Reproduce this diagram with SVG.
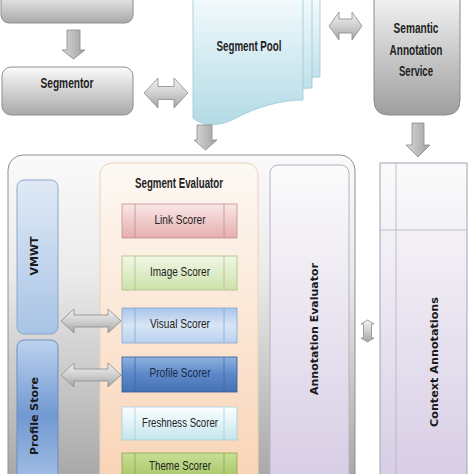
<svg xmlns="http://www.w3.org/2000/svg" width="474" height="474" viewBox="0 0 474 474">
<defs>
<linearGradient id="gGray" x1="0" y1="0" x2="0" y2="1"><stop offset="0" stop-color="#fbfbfb"/><stop offset="1" stop-color="#a9a9a9"/></linearGradient>
<linearGradient id="gSas" x1="0" y1="0" x2="0" y2="1"><stop offset="0" stop-color="#f4f4f4"/><stop offset="1" stop-color="#9e9e9e"/></linearGradient>
<linearGradient id="gArrow" x1="0" y1="0" x2="0" y2="1"><stop offset="0" stop-color="#f2f2f2"/><stop offset="0.5" stop-color="#d0d0d0"/><stop offset="1" stop-color="#a4a4a4"/></linearGradient>
<linearGradient id="gArrowD" x1="0" y1="0" x2="1" y2="0"><stop offset="0" stop-color="#d8d8d8"/><stop offset="1" stop-color="#a0a0a0"/></linearGradient>
<linearGradient id="gPool" x1="0" y1="0" x2="0" y2="1"><stop offset="0" stop-color="#f4fbfd"/><stop offset="1" stop-color="#b2dae5"/></linearGradient>
<linearGradient id="gCont" x1="0" y1="0" x2="0" y2="1"><stop offset="0" stop-color="#fafafa"/><stop offset="0.35" stop-color="#ebebeb"/><stop offset="1" stop-color="#a2a2a2"/></linearGradient>
<linearGradient id="gSeg" x1="0" y1="0" x2="0" y2="1"><stop offset="0" stop-color="#fdf9f4"/><stop offset="1" stop-color="#f9d2b4"/></linearGradient>
<linearGradient id="gLav" x1="0" y1="0" x2="0" y2="1"><stop offset="0" stop-color="#fbfbfb"/><stop offset="1" stop-color="#d6cbe4"/></linearGradient>
<linearGradient id="gVmwt" x1="0" y1="0" x2="0" y2="1"><stop offset="0" stop-color="#e0eaf6"/><stop offset="1" stop-color="#a8c3e5"/></linearGradient>
<linearGradient id="gPs" x1="0" y1="0" x2="0" y2="1"><stop offset="0" stop-color="#bcd2ee"/><stop offset="0.5" stop-color="#7199d2"/><stop offset="1" stop-color="#a9c3e6"/></linearGradient>
<linearGradient id="gLink" x1="0" y1="0" x2="0" y2="1"><stop offset="0" stop-color="#f9e7e7"/><stop offset="1" stop-color="#e6aeae"/></linearGradient>
<linearGradient id="gImage" x1="0" y1="0" x2="0" y2="1"><stop offset="0" stop-color="#f1f7e6"/><stop offset="1" stop-color="#cde2ab"/></linearGradient>
<linearGradient id="gVisual" x1="0" y1="0" x2="0" y2="1"><stop offset="0" stop-color="#a9c5e8"/><stop offset="0.5" stop-color="#d8e6f6"/><stop offset="1" stop-color="#b8d0ee"/></linearGradient>
<linearGradient id="gProfile" x1="0" y1="0" x2="0" y2="1"><stop offset="0" stop-color="#8fb1de"/><stop offset="0.5" stop-color="#5c88c8"/><stop offset="1" stop-color="#4672b4"/></linearGradient>
<linearGradient id="gFresh" x1="0" y1="0" x2="0" y2="1"><stop offset="0" stop-color="#fbfeff"/><stop offset="1" stop-color="#c5e6ee"/></linearGradient>
<linearGradient id="gTheme" x1="0" y1="0" x2="0" y2="1"><stop offset="0" stop-color="#c8de95"/><stop offset="1" stop-color="#9bbd58"/></linearGradient>
</defs>
<style>
.lbl{font-family:"Liberation Sans",Arial,sans-serif;font-weight:bold;font-size:14px;fill:#1e1e1e;text-anchor:middle}
.sc{font-family:"Liberation Sans",Arial,sans-serif;font-size:13.5px;fill:#222;text-anchor:middle}
.rot{font-family:"DejaVu Sans",Verdana,sans-serif;font-weight:bold;font-size:11px;fill:#1a1a1a;text-anchor:middle}
.arr{fill:url(#gArrow);stroke:#8a8a8a;stroke-width:0.8}
.arrd{fill:url(#gArrowD);stroke:#8a8a8a;stroke-width:0.8}
.sline{stroke-width:0.8;fill:none}
</style>

<g id="top-box">
<rect x="1" y="-12" width="132" height="35" rx="8" fill="url(#gGray)" stroke="#8e8e8e" stroke-width="1"/>
</g>

<g id="segmentor">
<rect x="2" y="67" width="131" height="48" rx="9" fill="url(#gGray)" stroke="#8e8e8e" stroke-width="1"/>
<text class="lbl" x="67" y="88" textLength="53" lengthAdjust="spacingAndGlyphs">Segmentor</text>
</g>

<g id="segment-pool">
<path d="M213,-5 H320 V77 C297,77 272,85 255,94 C240,102 225,104 213,95 Z" fill="url(#gPool)" stroke="#9cc8d4" stroke-width="0.8"/>
<path d="M204,-5 H312 V88 C289,88 264,96 247,105 C232,113 216,116 204,106 Z" fill="url(#gPool)" stroke="#9cc8d4" stroke-width="0.8"/>
<path d="M193,-5 H303 V100 C280,100 255,108 238,117 C222,126 205,128 193,118 Z" fill="url(#gPool)" stroke="#9cc8d4" stroke-width="0.8"/>
<text class="lbl" x="249" y="51" textLength="65" lengthAdjust="spacingAndGlyphs">Segment Pool</text>
</g>

<g id="semantic-annotation-service">
<path d="M374,-5 H460 V100 Q460,115 445,115 H389 Q374,115 374,100 Z" fill="url(#gSas)" stroke="#8a8a8a" stroke-width="1"/>
<text class="lbl" x="416" y="33" textLength="45" lengthAdjust="spacingAndGlyphs">Semantic</text>
<text class="lbl" x="416" y="55" textLength="53" lengthAdjust="spacingAndGlyphs">Annotation</text>
<text class="lbl" x="416" y="76" textLength="34" lengthAdjust="spacingAndGlyphs">Service</text>
</g>

<g id="container">
<rect x="8" y="155" width="347" height="340" rx="15" fill="url(#gCont)" stroke="#8f8f8f" stroke-width="1"/>
</g>

<g id="vmwt">
<rect x="17" y="180" width="41" height="154" rx="7" fill="url(#gVmwt)" stroke="#8ba7c8" stroke-width="1"/>
<text class="rot" transform="translate(34,256) rotate(-90)" y="4" font-size="12">VMWT</text>
</g>

<g id="profile-store">
<rect x="17" y="340" width="41" height="150" rx="7" fill="url(#gPs)" stroke="#6b8fc0" stroke-width="1"/>
<text class="rot" transform="translate(34,416) rotate(-90)" y="4">Profile Store</text>
</g>

<g id="segment-evaluator">
<rect x="100" y="163" width="158" height="330" rx="12" fill="url(#gSeg)" stroke="#ecd2b8" stroke-width="1"/>
<text class="lbl" x="179" y="188" textLength="88" lengthAdjust="spacingAndGlyphs">Segment Evaluator</text>
</g>

<g id="link-scorer">
<rect x="122" y="204" width="115" height="34" fill="url(#gLink)" stroke="#c98d8d" stroke-width="0.8"/>
<line x1="135" y1="204" x2="135" y2="238" class="sline" stroke="#c98d8d"/>
<line x1="224" y1="204" x2="224" y2="238" class="sline" stroke="#c98d8d"/>
<text class="sc" x="180" y="224" textLength="51" lengthAdjust="spacingAndGlyphs">Link Scorer</text>
</g>

<g id="image-scorer">
<rect x="122" y="256" width="115" height="34" fill="url(#gImage)" stroke="#a9c184" stroke-width="0.8"/>
<line x1="135" y1="256" x2="135" y2="290" class="sline" stroke="#a9c184"/>
<line x1="224" y1="256" x2="224" y2="290" class="sline" stroke="#a9c184"/>
<text class="sc" x="180" y="276" textLength="60" lengthAdjust="spacingAndGlyphs">Image Scorer</text>
</g>

<g id="visual-scorer">
<rect x="122" y="308" width="115" height="35" fill="url(#gVisual)" stroke="#86a8d4" stroke-width="0.8"/>
<line x1="135" y1="308" x2="135" y2="343" class="sline" stroke="#86a8d4"/>
<line x1="224" y1="308" x2="224" y2="343" class="sline" stroke="#86a8d4"/>
<text class="sc" x="180" y="328" textLength="60" lengthAdjust="spacingAndGlyphs">Visual Scorer</text>
</g>

<g id="profile-scorer">
<rect x="122" y="357" width="115" height="35" fill="url(#gProfile)" stroke="#2f5b9a" stroke-width="0.8"/>
<line x1="135" y1="357" x2="135" y2="392" class="sline" stroke="#3d68a6"/>
<line x1="224" y1="357" x2="224" y2="392" class="sline" stroke="#3d68a6"/>
<text class="sc" x="180" y="377" style="fill:#1b2a4a" textLength="61" lengthAdjust="spacingAndGlyphs">Profile Scorer</text>
</g>

<g id="freshness-scorer">
<rect x="122" y="407" width="115" height="33" fill="url(#gFresh)" stroke="#a3cfd9" stroke-width="0.8"/>
<line x1="135" y1="407" x2="135" y2="440" class="sline" stroke="#a3cfd9"/>
<line x1="224" y1="407" x2="224" y2="440" class="sline" stroke="#a3cfd9"/>
<text class="sc" x="180" y="427" textLength="76" lengthAdjust="spacingAndGlyphs">Freshness Scorer</text>
</g>

<g id="theme-scorer">
<rect x="122" y="453" width="115" height="35" fill="url(#gTheme)" stroke="#87a94a" stroke-width="0.8"/>
<line x1="135" y1="453" x2="135" y2="488" class="sline" stroke="#87a94a"/>
<line x1="224" y1="453" x2="224" y2="488" class="sline" stroke="#87a94a"/>
<text class="sc" x="180" y="470" textLength="62" lengthAdjust="spacingAndGlyphs">Theme Scorer</text>
</g>

<g id="annotation-evaluator">
<rect x="270" y="165" width="79" height="330" rx="8" fill="url(#gLav)" stroke="#b5b2c4" stroke-width="1"/>
<text class="rot" transform="translate(314,329) rotate(-90)" y="4" textLength="132" lengthAdjust="spacingAndGlyphs">Annotation Evaluator</text>
</g>

<g id="context-annotations">
<rect x="380" y="163" width="87" height="330" fill="url(#gLav)" stroke="#a3a0b2" stroke-width="1"/>
<line x1="396" y1="163" x2="396" y2="474" stroke="#b3b0c2" stroke-width="0.8"/>
<line x1="380" y1="230" x2="467" y2="230" stroke="#b3b0c2" stroke-width="0.8"/>
<text class="rot" transform="translate(434,362) rotate(-90)" y="4" textLength="130" lengthAdjust="spacingAndGlyphs">Context Annotations</text>
</g>

<g id="connectors">
<path class="arrd" d="M67,30 H80 V50 H85 L73.5,59 L62,50 H67 Z"/>
<path class="arr" d="M144,93 L158,78 V86.5 H174 V78 L188,93 L174,108 V99.5 H158 V108 Z"/>
<path class="arr" d="M329,26 L339,12 V19 H352 V12 L362,26 L352,40 V33 H339 V40 Z"/>
<path class="arrd" d="M197,125 H212 V140 H217 L205.5,150 L194,140 H197 Z"/>
<path class="arrd" d="M412,123 H424 V145 H430 L418,157 L406,145 H412 Z"/>
<path class="arr" d="M61,321 L74,309 V315 H108 V309 L121,321 L108,333 V327 H74 V333 Z"/>
<path class="arr" d="M61,375 L74,363 V369 H108 V363 L121,375 L108,387 V381 H74 V387 Z"/>
<path class="arr" d="M367.5,320 L374,324 H371.5 V338 H374 L367.5,342 L361,338 H363.5 V324 H361 Z"/>
</g>
</svg>
